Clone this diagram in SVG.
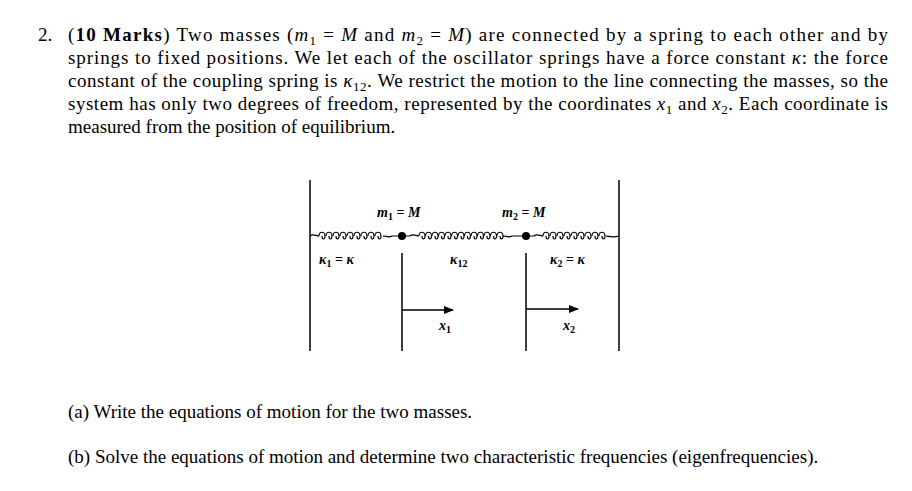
<svg xmlns="http://www.w3.org/2000/svg" xmlns:xlink="http://www.w3.org/1999/xlink" width="912" height="491" viewBox="0 0 912 491">
<style>
.t{font-family:"Liberation Serif",serif;font-size:19px;fill:#000}
.d{font-family:"Liberation Serif",serif;font-size:14px;font-weight:bold;fill:#000}
.i{font-style:italic}
.ln{stroke:#000;stroke-width:1.5;fill:none}
.sp{stroke:#000;stroke-width:1.2;fill:none}
</style>
<defs>
<marker id="ah" markerWidth="10" markerHeight="8" refX="9" refY="4" orient="auto" markerUnits="userSpaceOnUse"><path d="M0,0 L10,4 L0,8 Z" fill="#000"/></marker>
<path id="coil" d="M0,0 c0,-5 6,-5 6,0 c0,4 -3,4 -3,0" class="sp"/>
</defs>
<rect width="912" height="491" fill="#fff"/>
<g id="text">
<text class="t" x="38" y="41">2.</text>
<text class="t" x="68" y="41" textLength="820" lengthAdjust="spacing">(<tspan font-weight="bold">10 Marks</tspan>) Two masses (<tspan class="i">m</tspan><tspan font-size="13" dy="4">1</tspan><tspan dy="-4"> = </tspan><tspan class="i">M</tspan> and <tspan class="i">m</tspan><tspan font-size="13" dy="4">2</tspan><tspan dy="-4"> = </tspan><tspan class="i">M</tspan>) are connected by a spring to each other and by</text>
<text class="t" x="68" y="64" textLength="820" lengthAdjust="spacing">springs to fixed positions. We let each of the oscillator springs have a force constant <tspan class="i">κ</tspan>: the force</text>
<text class="t" x="68" y="87" textLength="820" lengthAdjust="spacing">constant of the coupling spring is <tspan class="i">κ</tspan><tspan font-size="13" dy="4">12</tspan><tspan dy="-4">. We restrict the motion to the line connecting the masses, so the</tspan></text>
<text class="t" x="68" y="110" textLength="820" lengthAdjust="spacing">system has only two degrees of freedom, represented by the coordinates <tspan class="i">x</tspan><tspan font-size="13" dy="4">1</tspan><tspan dy="-4"> and </tspan><tspan class="i">x</tspan><tspan font-size="13" dy="4">2</tspan><tspan dy="-4">. Each coordinate is</tspan></text>
<text class="t" x="68" y="133">measured from the position of equilibrium.</text>
<text class="t" x="68" y="418">(a) Write the equations of motion for the two masses.</text>
<text class="t" x="68" y="463">(b) Solve the equations of motion and determine two characteristic frequencies (eigenfrequencies).</text>
</g>
<g id="walls">
<line class="ln" x1="310" y1="180" x2="310" y2="351"/>
<line class="ln" x1="619" y1="180" x2="619" y2="351"/>
</g>
<g id="springs">
<path class="sp" d="M310,236 c3,-3 6,0 9,0 M383,236 c3,0 6,2 9,0 L402,236 M402,236 L410,236 c3,-3 6,0 9,0 M503,236 c3,0 6,2 9,0 L526,236 M526,236 L534,236 c3,-3 6,0 9,0 M606,236 c3,0 6,2 13,0"/>
<g transform="translate(319,236)">
<use xlink:href="#coil" x="0"/><use xlink:href="#coil" x="7"/><use xlink:href="#coil" x="14"/><use xlink:href="#coil" x="21"/><use xlink:href="#coil" x="28"/><use xlink:href="#coil" x="35"/><use xlink:href="#coil" x="42"/><use xlink:href="#coil" x="49"/><use xlink:href="#coil" x="56"/>
</g>
<g transform="translate(419,236)">
<use xlink:href="#coil" x="0"/><use xlink:href="#coil" x="6.5"/><use xlink:href="#coil" x="13"/><use xlink:href="#coil" x="19.5"/><use xlink:href="#coil" x="26"/><use xlink:href="#coil" x="32.5"/><use xlink:href="#coil" x="39"/><use xlink:href="#coil" x="45.5"/><use xlink:href="#coil" x="52"/><use xlink:href="#coil" x="58.5"/><use xlink:href="#coil" x="65"/><use xlink:href="#coil" x="71.5"/><use xlink:href="#coil" x="78"/>
</g>
<g transform="translate(543,236)">
<use xlink:href="#coil" x="0"/><use xlink:href="#coil" x="7"/><use xlink:href="#coil" x="14"/><use xlink:href="#coil" x="21"/><use xlink:href="#coil" x="28"/><use xlink:href="#coil" x="35"/><use xlink:href="#coil" x="42"/><use xlink:href="#coil" x="49"/><use xlink:href="#coil" x="56"/>
</g>
</g>
<g id="mass1"><circle cx="402" cy="236" r="4" fill="#000"/><text class="d" x="377" y="217"><tspan class="i">m</tspan><tspan font-size="10" dy="3">1</tspan><tspan dy="-3"> = </tspan><tspan class="i">M</tspan></text></g>
<g id="mass2"><circle cx="526" cy="236" r="4" fill="#000"/><text class="d" x="502" y="217"><tspan class="i">m</tspan><tspan font-size="10" dy="3">2</tspan><tspan dy="-3"> = </tspan><tspan class="i">M</tspan></text></g>
<g id="labels">
<text class="d" x="319" y="264"><tspan class="i">κ</tspan><tspan font-size="10" dy="3">1</tspan><tspan dy="-3"> = </tspan><tspan class="i">κ</tspan></text>
<text class="d" x="450" y="264"><tspan class="i">κ</tspan><tspan font-size="10" dy="3">12</tspan></text>
<text class="d" x="550" y="264"><tspan class="i">κ</tspan><tspan font-size="10" dy="3">2</tspan><tspan dy="-3"> = </tspan><tspan class="i">κ</tspan></text>
<text class="d" x="439" y="330"><tspan class="i">x</tspan><tspan font-size="10" dy="3">1</tspan></text>
<text class="d" x="563" y="330"><tspan class="i">x</tspan><tspan font-size="10" dy="3">2</tspan></text>
</g>
<g id="connectors">
<line class="ln" x1="402" y1="253" x2="402" y2="351"/>
<line class="ln" x1="526" y1="253" x2="526" y2="351"/>
<line class="ln" x1="402" y1="310" x2="453" y2="310" marker-end="url(#ah)"/>
<line class="ln" x1="526" y1="309" x2="578" y2="309" marker-end="url(#ah)"/>
</g>
</svg>
